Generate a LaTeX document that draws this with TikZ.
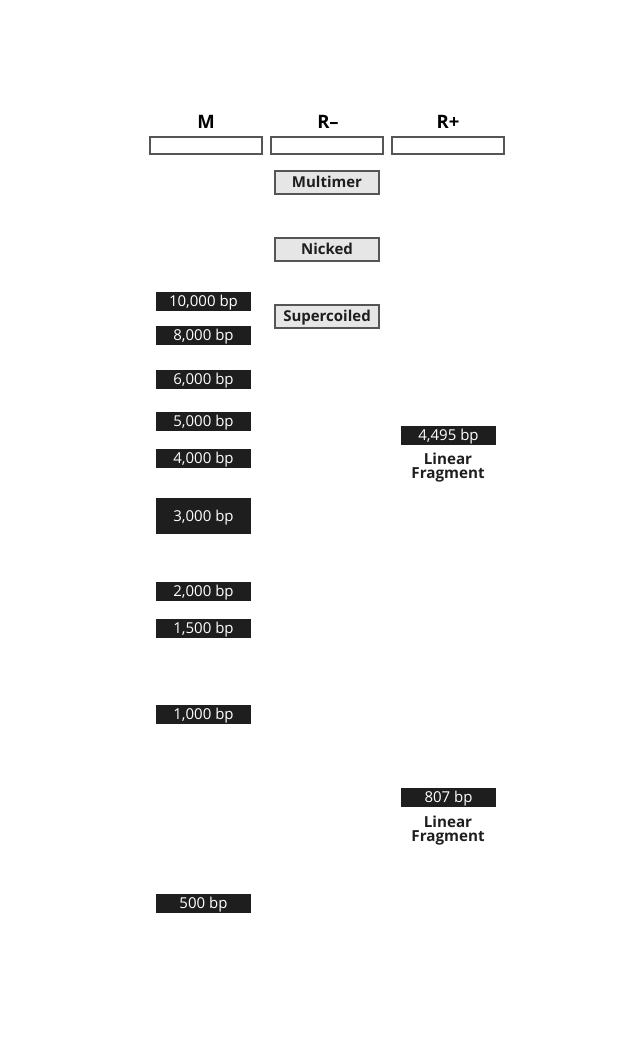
\documentclass[tikz,border=0pt]{standalone}
\usepackage{fontspec}
\setmainfont{Open Sans}
\definecolor{bandblack}{HTML}{1E1E1E}
\definecolor{boxgray}{HTML}{E6E6E6}
\definecolor{edgegray}{HTML}{555555}
\begin{document}
\begin{tikzpicture}[x=1pt,y=-1pt,
  lanelabel/.style={font=\fontsize{18.5}{18.5}\selectfont\bfseries, inner sep=0pt, text height=13.2pt, text depth=0pt},
  well/.style={draw=edgegray, line width=1.1pt, fill=white, minimum width=112pt, minimum height=17pt, inner sep=0pt},
  formbox/.style={draw=edgegray, line width=1.1pt, fill=boxgray, minimum width=104pt, minimum height=23pt, inner sep=0pt, font=\fontsize{15}{15}\selectfont\bfseries, text=bandblack, text height=10.7pt, text depth=0pt},
  band/.style={fill=bandblack, draw=none, minimum width=95pt, minimum height=19pt, inner sep=0pt, text=white, font=\fontsize{15}{15}\selectfont, text height=10.7pt, text depth=0pt},
  fraglabel/.style={align=center, inner sep=0pt, font=\fontsize{15.2}{14.2}\selectfont\bfseries, text=bandblack, anchor=north}
]
\useasboundingbox (0,0) rectangle (633,1040);
% lane labels
\node[lanelabel] (lM) at (206,121.5) {M};
\node[lanelabel] (lRm) at (328,121.5) {R–};
\node[lanelabel] (lRp) at (448,121.5) {R+};
% wells
\node[well] (wM) at (206,145.5) {};
\node[well] (wRm) at (327,145.5) {};
\node[well] (wRp) at (448,145.5) {};
% R- forms
\node[formbox] (multimer) at (327,182.5) {Multimer};
\node[formbox] (nicked) at (327,249.5) {Nicked};
\node[formbox] (supercoiled) at (327,316.5) {Supercoiled};
% marker ladder
\node[band] (m10000) at (203.5,301.5) {10,000 bp};
\node[band] (m8000) at (203.5,335.5) {8,000 bp};
\node[band] (m6000) at (203.5,379.5) {6,000 bp};
\node[band] (m5000) at (203.5,421.5) {5,000 bp};
\node[band] (m4000) at (203.5,458) {4,000 bp};
\node[band, minimum height=36pt] (m3000) at (203.5,516) {3,000 bp};
\node[band] (m2000) at (203.5,591.5) {2,000 bp};
\node[band] (m1500) at (203.5,628.5) {1,500 bp};
\node[band] (m1000) at (203.5,714) {1,000 bp};
\node[band] (m500) at (203.5,903) {500 bp};
% R+ fragments
\node[band] (f4495) at (448.5,435.5) {4,495 bp};
\node[fraglabel] (lf1) at (448,452.6) {Linear\\Fragment};
\node[band] (f807) at (448.5,797.5) {807 bp};
\node[fraglabel] (lf2) at (448,816) {Linear\\Fragment};
\end{tikzpicture}
\end{document}
